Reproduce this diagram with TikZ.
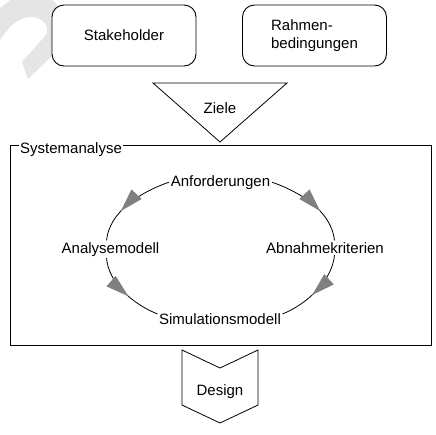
\documentclass[tikz,border=0pt]{standalone}
\usepackage{fontspec}
\setmainfont{Liberation Sans}
\usetikzlibrary{decorations.markings,backgrounds}
\tikzset{
  lbl/.style={font=\fontsize{15pt}{18.5pt}\selectfont, inner sep=1.5pt},
  box/.style={lbl, draw, line width=0.9pt, rounded corners=12pt, fill=white,
              minimum width=144pt, minimum height=61pt, align=left},
  cyc/.style={lbl, fill=white},
  cycedge/.style={line width=0.8pt,
     decoration={markings, mark=at position #1 with
       {\fill[gray] (0pt,0pt) -- (-23pt,7pt) -- (-23pt,-7pt) -- cycle;}},
     postaction={decorate}},
  outline/.style={draw, line width=0.8pt},
  wm/.style={fill=gray!20},
}
\begin{document}
\begin{tikzpicture}[x=1pt,y=-1pt]
\useasboundingbox (0,0) rectangle (436,434);
% watermark
\fill[wm] (0,40) .. controls (8,28) and (18,16) .. (33,17)
  .. controls (44,18) and (50,28) .. (46,35) -- (22,62) -- (28,79) -- (56,52)
  .. controls (70,35) and (66,5) .. (45,-5) -- (17,-5) -- (0,8) -- cycle;
% top boxes
\node[box] (stake) at (124,35.5) {\raisebox{-1.5pt}{Stakeholder}};
\node[box] (rahmen) at (314.5,35.5) {Rahmen-\\bedingungen};
% Ziele triangle
\draw[outline] (153,83) -- (287,83) -- (220,142) -- cycle;
\node[lbl, anchor=base] (ziele) at (220,113.3) {Ziele};
% Systemanalyse frame
\draw[outline] (10,145) rectangle (431,345);
\node[lbl, fill=white, anchor=base west, inner sep=1pt] (sysa) at (19,153) {Systemanalyse};
% cycle nodes
\node[cyc, anchor=base] (anf) at (220.5,186) {Anforderungen};
\node[cyc, anchor=base] (ana) at (110.5,253) {Analysemodell};
\node[cyc, anchor=base] (abn) at (325,253) {Abnahmekriterien};
\node[cyc, anchor=base] (sim) at (220,324) {Simulationsmodell};
\begin{scope}[on background layer]
\draw[cycedge=0.63] (anf.west) .. controls +(-30,10.5) and +(3,-28.5) .. ([xshift=-4pt]ana.north);
\draw[cycedge=0.57] ([xshift=-4pt]ana.south) .. controls +(2,25) and +(-25,-10) .. ([yshift=-2.5pt]sim.north west);
\draw[cycedge=0.63] (anf.east) .. controls +(30,10.5) and +(-3,-28.5) .. ([xshift=9.5pt]abn.north);
\draw[cycedge=0.57] ([xshift=9.5pt]abn.south) .. controls +(-2,25) and +(25,-10) .. ([yshift=-2.5pt]sim.north east);
\end{scope}
% Design chevron
\draw[outline] (182,350) -- (220,368) -- (258,350) -- (258,405) -- (220,423) -- (182,405) -- cycle;
\node[lbl, anchor=base] (design) at (220,395) {Design};
\end{tikzpicture}
\end{document}
